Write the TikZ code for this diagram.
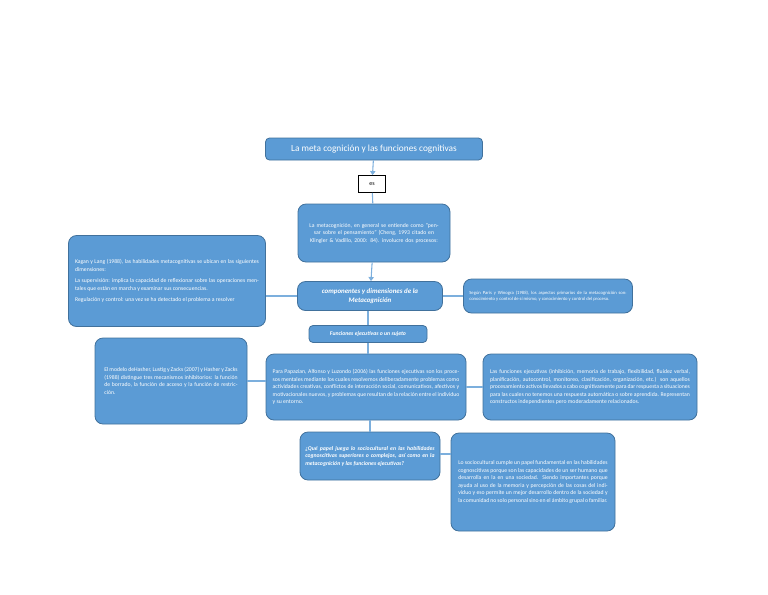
\documentclass[tikz,border=0pt]{standalone}
\usepackage{fontspec}
\setmainfont{Carlito}
\usetikzlibrary{arrows.meta}
\definecolor{bfill}{HTML}{5B9BD5}
\definecolor{bdraw}{HTML}{41719C}
\begin{document}
\begin{tikzpicture}[x=0.75pt,y=-0.75pt,
  box/.style={draw=bdraw,fill=bfill,rounded corners=6pt,text=white,line width=0.6pt,inner sep=3pt,align=justify,font=\fontsize{4.3}{5.6}\selectfont},
  link/.style={draw=bfill!80,line width=0.8pt},
  arr/.style={link,-{Triangle[length=3pt,width=4pt]}}]
\useasboundingbox (0,0) rectangle (768,594);
\node[box,rounded corners=3pt,minimum width=217*0.75pt,minimum height=22*0.75pt,align=center,font=\fontsize{7}{8}\selectfont] (t) at (374,149) {La meta cognición y las funciones cognitivas};
\node[draw=black,fill=white,line width=0.6pt,minimum width=27*0.75pt,minimum height=17*0.75pt,inner sep=0pt,font=\fontsize{4.5}{5}\selectfont] (es) at (372,184) {es};
\node[box,minimum width=152*0.75pt,minimum height=58*0.75pt,align=center,text width=105pt] (m) at (374,233) {La metacognición, en general se entiende como "pensar sobre el pensamiento" (Cheng, 1993 citado en Klingler \& Vadillo, 2000: 84). involucre dos procesos:};
\node[box,minimum width=197*0.75pt,minimum height=91*0.75pt,text width=138pt] (k) at (167,281) {Kagan y Lang (1988), las habilidades metacognitivas se ubican en las siguientes dimensiones:\\[3pt]
La supervisión: implica la capacidad de reflexionar sobre las operaciones mentales que están en marcha y examinar sus consecuencias.\\[3pt]
Regulación y control: una vez se ha detectado el problema a resolver};
\node[box,minimum width=145*0.75pt,minimum height=29*0.75pt,align=center,font=\fontsize{5.2}{6.5}\selectfont\itshape\bfseries] (c) at (370,296) {componentes y dimensiones de la\\Metacognición};
\node[box,minimum width=169*0.75pt,minimum height=34*0.75pt,text width=118pt,font=\fontsize{3.5}{4.6}\selectfont] (s) at (548,296) {Según Paris y Winogra (1988), los aspectos primarios de la metacognición son: conocimiento y control de sí mismo, y conocimiento y control del proceso.};
\node[box,rounded corners=3pt,minimum width=118*0.75pt,minimum height=17*0.75pt,align=center,font=\fontsize{4.3}{5}\selectfont\itshape\bfseries] (f) at (368,334) {Funciones ejecutivas o un sujeto};
\node[box,minimum width=152*0.75pt,minimum height=86*0.75pt,text width=100pt] (h) at (171,381) {El modelo deHasher, Lustig y Zacks (2007) y Hasher y Zacks (1988) distingue tres mecanismos inhibitorios: la función de borrado, la función de acceso y la función de restricción.};
\node[box,minimum width=200*0.75pt,minimum height=66*0.75pt,text width=140pt] (p) at (366,387) {Para Papazian, Alfonso y Luzondo (2006) las funciones ejecutivas son los procesos mentales mediante los cuales resolvemos deliberadamente problemas como actividades creativas, conflictos de interacción social, comunicativos, afectivos y motivacionales nuevos, y problemas que resultan de la relación entre el individuo y su entorno.};
\node[box,minimum width=214*0.75pt,minimum height=66*0.75pt,text width=150pt] (l) at (590,387) {Las funciones ejecutivas (inhibición, memoria de trabajo, flexibilidad, fluidez verbal, planificación, autocontrol, monitoreo, clasificación, organización, etc.) son aquellos procesamiento activos llevados a cabo cognitivamente para dar respuesta a situaciones para las cuales no tenemos una respuesta automática o sobre aprendida. Representan constructos independientes pero moderadamente relacionados.};
\node[box,minimum width=140*0.75pt,minimum height=48*0.75pt,text width=97pt,font=\fontsize{4.3}{5.6}\selectfont\itshape\bfseries] (q) at (370,456) {¿Qué papel juega lo sociocultural en las habilidades cognoscitivas superiores o complejos, así como en la metacognición y las funciones ejecutivas?};
\node[box,minimum width=164*0.75pt,minimum height=98*0.75pt,text width=112pt] (o) at (533,482) {Lo sociocultural cumple un papel fundamental en las habilidades cognoscitivas porque son las capacidades de un ser humano que desarrolla en la en una sociedad. Siendo importantes porque ayuda al uso de la memoria y percepción de las cosas del individuo y eso permite un mejor desarrollo dentro de la sociedad y la comunidad no solo personal sino en el ámbito grupal o familiar.};
\begin{scope}[on background layer/.try]
\end{scope}
\draw[arr] (t) -- (es);
\draw[link] (es) -- (m);
\draw[arr] (m) -- (c);
\draw[link] (k.east |- c) -- (c);
\draw[link] (c) -- (s);
\draw[link] (c.south -| f) -- (f);
\draw[link] (f) -- (p.north -| f);
\draw[link] (h.east) -- (p.west |- h.east);
\draw[link] (p) -- (l);
\draw[link] (p.south -| q) -- (q);
\draw[link] (q.east |- 0,454) -- (o.west |- 0,454);
\end{tikzpicture}
\end{document}
